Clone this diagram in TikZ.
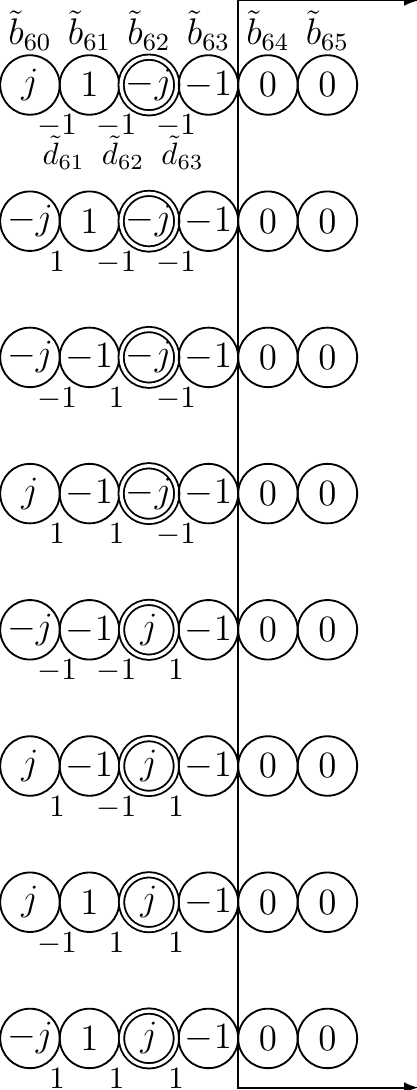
\documentclass[tikz,border=0pt]{standalone}
\usetikzlibrary{arrows}

\tikzset{
  sym/.style={draw,circle,inner sep=0pt,minimum size=6.77mm},
  pilot/.style={sym,double,double distance=1.1pt,minimum size=6.77mm-1.5pt},
  val/.style={anchor=base,inner sep=0pt},
  diff/.style={val,font=\normalsize},
}

\begin{document}
\begin{tikzpicture}[semithick,font=\large]
	%frame of the picture
	\useasboundingbox (-0.341,0.967) rectangle (4.404,-11.437);
	\clip (-0.341,0.967) rectangle (4.404,-11.437);

	%column labels
	\foreach \i in {0,...,5}
	  \node[val] (b\i) at (0.677*\i,0.455) {$\tilde{b}_{6\i}$};

	%rows of symbols, one row per step
	\foreach \va/\vb/\vc/\vd/\da/\db/\dc [count=\k from 0] in
	  {j/1/-j/-1/-1/-1/-1, -j/1/-j/-1/1/-1/-1, -j/-1/-j/-1/-1/1/-1,
	   j/-1/-j/-1/1/1/-1, -j/-1/j/-1/-1/-1/1, j/-1/j/-1/1/-1/1,
	   j/1/j/-1/-1/1/1, -j/1/j/-1/1/1/1}
	{
	  \node[sym] (c\k-0) at (0,-1.55*\k) {$\va$};
	  \node[sym] (c\k-1) at (0.677,-1.55*\k) {$\vb$};
	  \node[pilot] (c\k-2) at (1.354,-1.55*\k) {$\vc$}; %pilot
	  \node[sym] (c\k-3) at (2.031,-1.55*\k) {$\vd$};
	  \node[sym] (c\k-4) at (2.708,-1.55*\k) {$0$};
	  \node[sym] (c\k-5) at (3.385,-1.55*\k) {$0$};
	  %differences
	  \node[diff] (e\k-1) at (0.308,-1.55*\k-0.569) {$\da$};
	  \node[diff] (e\k-2) at (0.985,-1.55*\k-0.569) {$\db$};
	  \node[diff] (e\k-3) at (1.662,-1.55*\k-0.569) {$\dc$};
	}

	%difference labels
	\node[diff] (d1) at (0.383,-0.91) {$\tilde{d}_{61}$};
	\node[diff] (d2) at (1.060,-0.91) {$\tilde{d}_{62}$};
	\node[diff] (d3) at (1.737,-0.91) {$\tilde{d}_{63}$};

	%bracket
	\coordinate (top) at (2.369,0.962);
	\coordinate (bot) at (2.369,-11.41);
	\coordinate (topend) at (4.42,0.962);
	\coordinate (botend) at (4.42,-11.41);
	\draw[latex-latex] (topend) -- (top) -- (bot) -- (botend);
\end{tikzpicture}
\end{document}
